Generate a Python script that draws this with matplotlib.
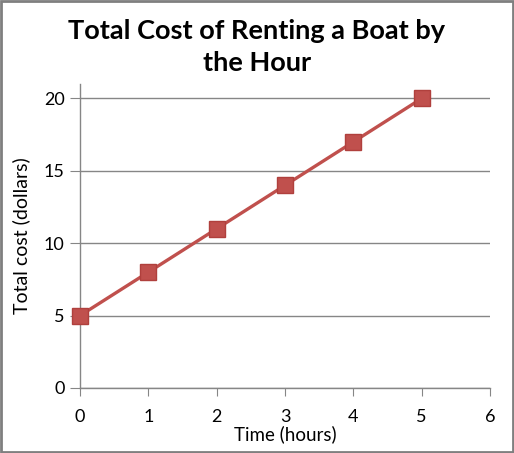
import matplotlib.pyplot as plt
from matplotlib.patches import Rectangle

# datos
hours = [0, 1, 2, 3, 4, 5]
cost = [5, 8, 11, 14, 17, 20]
x_ticks = [0, 1, 2, 3, 4, 5, 6]
y_ticks = [0, 5, 10, 15, 20]

plt.rcParams['font.family'] = ['Lato', 'DejaVu Sans']

fig = plt.figure(figsize=(5.14, 4.53), dpi=100)
ax = fig.add_axes([80/514, 1 - 388/453, 410/514, 304/453])

ax.plot(hours, cost, color='#C0504D', linewidth=2.4, marker='s', markersize=11,
        markerfacecolor='#C0504D', markeredgecolor='#B0403D', markeredgewidth=1,
        clip_on=False, zorder=3)

ax.set_xlim(0, 6)
ax.set_ylim(0, 21)
ax.set_xticks(x_ticks)
ax.set_yticks(y_ticks)
ax.grid(axis='y', color='#868686', linewidth=1)
ax.set_axisbelow(True)

for s in ['top', 'right']:
    ax.spines[s].set_visible(False)
for s in ['left', 'bottom']:
    ax.spines[s].set_color('#868686')
    ax.spines[s].set_linewidth(1)

ax.tick_params(axis='x', direction='out', length=6, color='#868686', labelsize=13, pad=9)
ax.tick_params(axis='y', direction='out', length=7, color='#868686', labelsize=13, pad=4)

ax.set_xlabel('Time (hours)', fontsize=13.5, labelpad=0)
ax.set_ylabel('Total cost (dollars)', fontsize=14)
ax.yaxis.set_label_coords(-50/410, 0.5)

fig.text(0.5, 1 - 47/453, 'Total Cost of Renting a Boat by\nthe Hour', ha='center', va='center',
         fontsize=19.5, fontweight='bold', linespacing=1.4)

# borde de la figura
fig.patches.append(Rectangle((0.002, 0.002), 0.996, 0.996, transform=fig.transFigure,
                             fill=False, edgecolor='#7F7F7F', linewidth=2))

fig.savefig('out.png', dpi=100)
